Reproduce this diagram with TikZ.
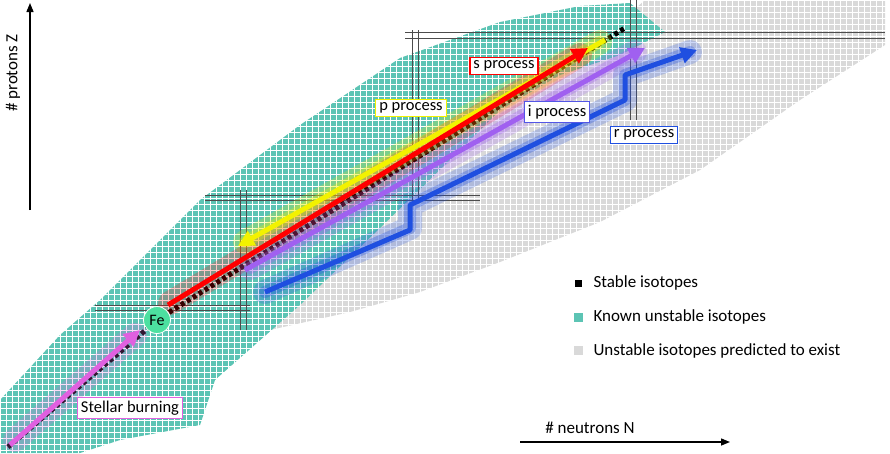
\documentclass[tikz,border=0pt]{standalone}
\usepackage{fontspec}
\setmainfont{Carlito}
\usetikzlibrary{arrows.meta}
\definecolor{teal1}{HTML}{5CC4B4}
\definecolor{gray1}{HTML}{D9D9D9}
\definecolor{pinkA}{HTML}{E060E0}
\definecolor{yellowA}{HTML}{F2F200}
\definecolor{purpA}{HTML}{A060F0}
\definecolor{blueA}{HTML}{1F4FE0}
\definecolor{feg}{HTML}{4CE0A0}
\tikzset{
 lab/.style={draw=#1,line width=1.2pt,fill=white,inner sep=3.5pt,font=\fontsize{16.5}{18}\selectfont},
 glow/.style={draw=#1,line width=24pt,opacity=0.22,line cap=round,line join=round},
 glow2/.style={draw=#1,line width=12pt,opacity=0.3,line cap=round,line join=round},
 proc/.style={draw=#1,line width=5pt,line join=round,-{Triangle[length=16pt,width=16pt]}},
 axis/.style={line width=1.4pt,-{Triangle[length=9pt,width=7pt]}},
 leg/.style={anchor=west,font=\fontsize{17}{19}\selectfont}
}
\begin{document}
\begin{tikzpicture}[x=1pt,y=-1pt]
\useasboundingbox (0,0) rectangle (890,453);
\fill[white] (0,0) rectangle (890,453);
\begin{scope}
\clip (0,0) rectangle (890,453);
% predicted region
\fill[gray1] (230,262) -- (350,200) -- (400,150) -- (500,90) -- (600,40) -- (645,0) -- (885,0) -- (885,45) -- (800,100) -- (700,170) -- (600,222) -- (500,262) -- (420,292) -- (350,312) -- (270,330) -- cycle;
% known region
\fill[teal1] (0,400) -- (60,335) -- (100,300) -- (200,200) -- (300,125) -- (400,58) -- (500,22) -- (580,6) -- (630,3) -- (665,32) -- (620,55) -- (560,75) -- (500,110) -- (450,160) -- (380,228) -- (300,305) -- (215,380) -- (200,425) -- (120,440) -- (80,453) -- (0,453) -- cycle;
% cell grid
\foreach \q in {0,6,...,890} \draw[white,line width=0.7pt] (\q,0) -- (\q,453);
\foreach \q in {0,6,...,453} \draw[white,line width=0.7pt] (0,\q) -- (890,\q);
% magic-number lines
\begin{scope}[black!70,line width=0.6pt]
\draw (405,32) -- (885,32); \draw (405,38) -- (885,38);
\draw (205,195) -- (480,195); \draw (205,200) -- (480,200);
\draw (95,305) -- (250,305); \draw (95,310) -- (250,310);
\draw (412,30) -- (412,200); \draw (418,30) -- (418,200);
\draw (240,190) -- (240,330); \draw (246,190) -- (246,330);
\draw (630,0) -- (630,120); \draw (636,0) -- (636,120);
\end{scope}
% stable valley
\draw[black,line width=5pt,dash pattern=on 4pt off 3pt] (8,447) -- (160,318) -- (625,28);
\end{scope}
% glows
\draw[glow=pinkA] (15,440) -- (135,335);
\draw[glow=yellowA] (600,42) -- (245,242);
\draw[glow=red] (170,303) -- (580,55);
\draw[glow=purpA] (250,268) -- (635,52);
\draw[glow=blueA] (265,292) -- (410,228) -- (410,205) -- (625,100) -- (625,75) -- (690,52);
\draw[glow2=yellowA] (600,42) -- (245,242);
\draw[glow2=purpA] (250,268) -- (635,52);
\draw[glow2=blueA] (265,292) -- (410,228) -- (410,205) -- (625,100) -- (625,75) -- (690,52);
% coordinates
\coordinate (sb0) at (10,445); \coordinate (sb1) at (140,330);
\coordinate (s0) at (168,305); \coordinate (s1) at (588,48);
\coordinate (p0) at (605,40); \coordinate (p1) at (238,246);
\coordinate (i0) at (245,270); \coordinate (i1) at (645,48);
\coordinate (r0) at (265,292); \coordinate (r1) at (697,50);
\draw[proc=pinkA] (sb0) -- (sb1);
\draw[proc=yellowA] (p0) -- (p1);
\draw[proc=red] (s0) -- (s1);
\draw[proc=purpA] (i0) -- (i1);
\draw[proc=blueA] (r0) -- (410,230) -- (410,205) -- (625,100) -- (625,75) -- (r1);
\node[circle,fill=feg,draw=white,line width=0.8pt,minimum size=27pt,inner sep=0pt,font=\fontsize{16}{18}\selectfont] (fe) at (157,320) {Fe};
% labels
\node[lab=pinkA] (lsb) at (130,408) {Stellar burning};
\node[lab=red] (ls) at (504,66) {s process};
\node[lab=yellowA] (lp) at (411,108) {p process};
\node[lab=blueA!60!purpA] (li) at (557,112) {i process};
\node[lab=blueA] (lr) at (644,135) {r process};
% axes
\coordinate (ya) at (30,210); \coordinate (yb) at (30,3);
\draw[axis] (ya) -- (yb);
\node[rotate=90,font=\fontsize{17}{19}\selectfont] (ylab) at (13,73) {\# protons Z};
\coordinate (xa) at (520,442); \coordinate (xb) at (730,442);
\draw[axis] (xa) -- (xb);
\node[font=\fontsize{17}{19}\selectfont] (xlab) at (590,428) {\# neutrons N};
% legend
\fill[black] (575,280) rectangle (582,287);
\node[leg] (l1) at (590,283) {Stable isotopes};
\fill[teal1] (574,313) rectangle (583,322);
\node[leg] (l2) at (590,317) {Known unstable isotopes};
\fill[gray1] (574,346) rectangle (583,355);
\node[leg] (l3) at (590,351) {Unstable isotopes predicted to exist};
\end{tikzpicture}
\end{document}
